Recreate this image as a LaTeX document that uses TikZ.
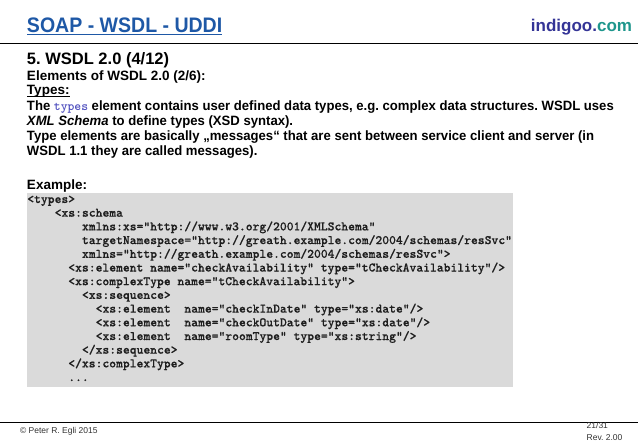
\documentclass[tikz,border=0pt]{standalone}
\usepackage{fontspec}
\setmainfont{Liberation Sans}
\newfontfamily\titlefont{Liberation Sans}[FakeStretch=0.93]
\newfontfamily\narrowsf{Liberation Sans}[FakeStretch=0.972]
\newfontfamily\codefont{lmmonolt10-bold}[Extension=.otf, FakeBold=0.3]
\newfontfamily\kwfont{lmmonolt10-bold}[Extension=.otf]
\usetikzlibrary{calc}
\definecolor{titleblue}{RGB}{30,88,166}
\definecolor{indigotxt}{RGB}{52,52,150}
\definecolor{tealcom}{RGB}{30,150,140}
\definecolor{codebg}{RGB}{218,218,218}
\definecolor{kwblue}{RGB}{78,78,190}
\definecolor{codetxt}{RGB}{30,30,30}
\definecolor{foottxt}{RGB}{50,50,50}
\frenchspacing
\begin{document}
\begin{tikzpicture}[x=1pt,y=-1pt,
  txt/.style={anchor=base west, inner sep=0pt, outer sep=0pt},
  prose/.style={txt, font=\fontsize{13.5}{15}\selectfont\bfseries},
  nprose/.style={txt, font=\narrowsf\fontsize{13.5}{15}\selectfont\bfseries},
  codeline/.style={txt, text=codetxt, font=\codefont\fontsize{13}{14}\selectfont},
  foot/.style={txt, text=foottxt, font=\fontsize{8.5}{10}\selectfont},
  rule/.style={line width=1pt, black}]
\useasboundingbox (0,0) rectangle (638,442);
% header
\node[txt, text=titleblue, font=\titlefont\fontsize{21}{24}\selectfont\bfseries] (title) at (27,32) {SOAP - WSDL - UDDI};
\draw[titleblue, line width=1.4pt] ($(title.base west)+(0,2.4)$) -- ($(title.base east)+(0,2.4)$);
\node[txt, anchor=base east, font=\fontsize{17}{20}\selectfont\bfseries] (logo) at (632,31) {\textcolor{indigotxt}{indigoo.}\textcolor{tealcom}{com}};
\coordinate (r1a) at (0,43.7);
\coordinate (r1b) at (638,43.7);
\draw[rule] (r1a) -- (r1b);
% body text
\node[txt, font=\fontsize{16.5}{19}\selectfont\bfseries] (head) at (27,64) {5. WSDL 2.0 (4/12)};
\node[prose] (l1) at (27,80) {Elements of WSDL 2.0 (2/6):};
\node[prose] (l2) at (27,94) {Types:};
\draw[line width=0.9pt] ($(l2.base west)+(0,2.6)$) -- ($(l2.base east)+(0,2.6)$);
\node[nprose] (l3) at (27,110) {The {\color{kwblue}\kwfont\fontsize{13}{14}\selectfont types} element contains user defined data types, e.g. complex data structures. WSDL uses};
\node[nprose] (l4) at (27,125) {\textit{XML Schema} to define types (XSD syntax).};
\node[nprose] (l5) at (27,140) {Type elements are basically „messages“ that are sent between service client and server (in};
\node[nprose] (l6) at (27,155.5) {WSDL 1.1 they are called messages).};
\node[prose] (l7) at (27,189) {Example:};
% code box
\fill[codebg] (26.7,192.7) rectangle (513.3,387);
\node[codeline] (c0) at (27.3,203) {<types>};
\node[codeline] (c1) at (54.7,216.7) {<xs:schema};
\node[codeline] (c2) at (82.0,230.4) {xmlns:xs="http://www.w3.org/2001/XMLSchema"};
\node[codeline] (c3) at (82.0,244.1) {targetNamespace="http://greath.example.com/2004/schemas/resSvc"};
\node[codeline] (c4) at (82.0,257.8) {xmlns="http://greath.example.com/2004/schemas/resSvc">};
\node[codeline] (c5) at (68.3,271.5) {<xs:element name="checkAvailability" type="tCheckAvailability"/>};
\node[codeline] (c6) at (68.3,285.2) {<xs:complexType name="tCheckAvailability">};
\node[codeline] (c7) at (82.0,298.9) {<xs:sequence>};
\node[codeline] (c8) at (95.7,312.6) {<xs:element\ \ name="checkInDate" type="xs:date"/>};
\node[codeline] (c9) at (95.7,326.3) {<xs:element\ \ name="checkOutDate" type="xs:date"/>};
\node[codeline] (c10) at (95.7,340.0) {<xs:element\ \ name="roomType" type="xs:string"/>};
\node[codeline] (c11) at (82.0,353.7) {</xs:sequence>};
\node[codeline] (c12) at (68.3,367.4) {</xs:complexType>};
\node[codeline] (c13) at (68.3,381.1) {...};
% footer
\coordinate (r2a) at (0,422.3);
\coordinate (r2b) at (638,422.3);
\draw[rule] (r2a) -- (r2b);
\node[foot] (copy) at (20,433) {© Peter R. Egli 2015};
\node[foot] (page) at (586.7,428.7) {21/31};
\node[foot] (rev) at (586.7,440) {Rev. 2.00};
\end{tikzpicture}
\end{document}
